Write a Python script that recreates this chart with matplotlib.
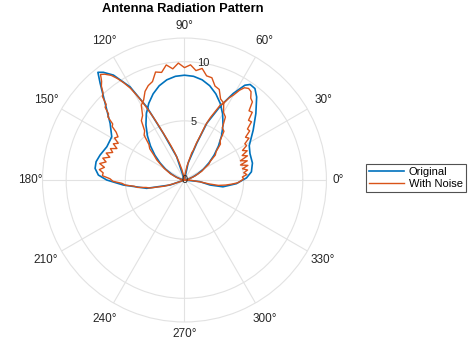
import numpy as np
import matplotlib
matplotlib.use('Agg')
import matplotlib.pyplot as plt

plt.rcParams['font.family'] = ['Liberation Sans', 'DejaVu Sans']

# Original pattern, traced lobe by lobe (angles in degrees)
right_theta = [0, -6, -11, -10, -4, 2, 7, 14, 22, 28, 36, 43, 49, 52.4, 55.5, 57.5,
               60.6, 64, 68.5, 71.5, 78, 90]
right_r = [0, 1.3, 2.2, 3.3, 4.4, 5.25, 5.7, 5.92, 5.97, 6.2, 7.18, 8.25, 9.3, 9.76, 9.8, 9.5,
           8.4, 7.0, 5.17, 3.3, 1.47, 0]

center_theta = [0, 5, 10, 15, 20, 25, 30, 35, 40, 45, 50, 55, 60, 65, 70, 75, 80, 85, 90,
                95, 100, 105, 110, 115, 120, 125, 130, 135, 140, 145, 150, 155, 160, 165, 170, 175, 180]
center_r = [0, 0.03, 0.14, 0.36, 0.75, 1.25, 1.85, 2.52, 3.27, 4.06, 4.87, 5.68, 6.45, 7.15, 7.75, 8.25, 8.6, 8.8, 8.86,
            8.8, 8.6, 8.25, 7.75, 7.15, 6.45, 5.68, 4.87, 4.06, 3.27, 2.52, 1.85, 1.25, 0.75, 0.36, 0.14, 0.03, 0]

left_theta = [100, 108.5, 114.4, 117.3, 120.3, 124.1, 127, 128.8, 131.1, 136, 142.7, 149.3, 156.8,
              163.5, 168.3, 172.6, 176.7, 180, 184.7, 192.4, 199, 180]
left_r = [0, 2.07, 4.33, 6.96, 9.12, 10.71, 11.4, 11.68, 10.84, 9.32, 7.9, 7.15, 7.14,
          7.44, 7.63, 7.62, 7.29, 6.57, 5.18, 3.27, 1.3, 0]

# Noisy measurement, same lobes
right_noisy_theta = [0, -3, -7, -9, -9, -7, -5, -3, -1,
                     1, 3, 5, 7, 9, 11, 13, 15, 17, 19, 21, 23, 25, 27, 29, 31, 33, 35, 37, 39,
                     41, 43, 45, 47, 49, 51, 53, 55, 57,
                     58.5, 60, 61.5, 63, 64.5, 66, 67.5, 69, 70.5, 72, 73.5, 75, 77, 80, 84, 90]
right_noisy_r = [0, 0.6, 1.4, 2.1, 2.9, 3.5, 4.0, 4.5, 4.75,
                 5.0, 4.9, 5.3, 5.05, 5.4, 5.0, 5.5, 4.9, 5.55, 5.0, 5.7, 5.3, 5.85, 5.5, 6.0, 5.95, 6.5, 6.3, 6.9, 6.85,
                 7.5, 7.4, 8.1, 8.0, 8.75, 8.9, 9.35, 9.45, 9.3,
                 8.9, 8.3, 7.9, 7.3, 7.0, 6.3, 5.7, 5.0, 3.9, 3.3, 2.6, 2.4, 1.7, 1.15, 0.5, 0]

center_noisy_theta = [0, 3, 6, 9, 12, 15, 18, 21, 24, 27, 30, 33, 36, 39, 42, 45, 48, 51, 54, 57,
                      60, 63, 66, 69, 72, 75, 78, 81, 84, 87, 90, 93, 96, 99, 102, 105, 108, 111, 114, 117,
                      120, 123, 126, 129, 132, 135, 138, 141, 144, 147, 150, 153, 156, 159, 162, 165, 168,
                      171, 174, 177, 180]
center_noisy_r = [0, 0.05, 0.12, 0.2, 0.35, 0.45, 0.7, 0.95, 1.2, 1.65, 1.9, 2.45, 2.7, 3.35, 3.6, 4.3, 4.5, 5.3, 5.45, 6.35,
                  6.6, 7.3, 7.5, 8.2, 8.35, 8.95, 9.0, 9.55, 9.3, 9.75, 9.5, 9.9, 9.45, 9.85, 9.3, 9.45, 8.75, 8.55, 8.2, 7.6,
                  7.3, 6.5, 6.2, 5.35, 5.1, 4.25, 3.95, 3.3, 2.9, 2.35, 2.0, 1.55, 1.3, 0.9, 0.7, 0.45, 0.3,
                  0.18, 0.1, 0.04, 0]

left_noisy_theta = [90, 100, 104, 107, 109.5, 111.5, 113, 114.5, 115.5, 116.5,
                    117.5, 118.5, 119.5, 120.5, 122, 123.5, 125, 127, 128.5,
                    130, 131.5, 133, 134.5, 136, 137.5, 139, 140.5, 142, 143.5, 145,
                    147, 149, 151, 153, 155, 157, 159, 161, 163, 165, 167, 169, 171, 173, 175, 177, 179,
                    181, 183, 185, 187, 189, 191, 193, 195, 197, 199, 180]
left_noisy_r = [0, 0.3, 0.9, 1.6, 2.4, 3.1, 3.7, 4.5, 5.2, 6.0,
                6.8, 7.6, 8.3, 9.0, 9.7, 10.3, 10.8, 11.2, 11.4,
                10.9, 10.6, 10.1, 9.9, 9.2, 9.1, 8.5, 8.4, 7.7, 7.6, 7.05,
                6.7, 6.9, 6.4, 6.75, 6.3, 6.8, 6.5, 7.0, 6.6, 7.15, 6.8, 7.3, 6.85, 7.25, 6.9, 6.95, 6.3,
                6.05, 5.3, 5.0, 4.3, 4.0, 3.3, 3.0, 2.2, 1.8, 1.0, 0]

theta_ticks = [0, 30, 60, 90, 120, 150, 180, 210, 240, 270, 300, 330]
r_ticks = [0, 5, 10]
r_max = 12

orig_theta = np.deg2rad(np.concatenate([right_theta, center_theta, left_theta]))
orig_r = np.concatenate([right_r, center_r, left_r])
noisy_theta = np.deg2rad(np.concatenate([right_noisy_theta, center_noisy_theta, left_noisy_theta]))
noisy_r = np.concatenate([right_noisy_r, center_noisy_r, left_noisy_r])

fig = plt.figure(figsize=(4.74, 3.48), dpi=100)
ax = fig.add_axes([0.0897, 0.0747, 0.599, 0.816], projection='polar')

l1, = ax.plot(orig_theta, orig_r, color='#0072BD', linewidth=1.2, label='Original')
l2, = ax.plot(noisy_theta, noisy_r, color='#D95319', linewidth=1.0, label='With Noise')

ax.set_rlim(0, r_max)
ax.set_rticks(r_ticks)
ax.set_yticklabels([])
ax.set_thetagrids(theta_ticks)
ax.set_xticklabels([])
ax.grid(True, color='#e2e2e2', linewidth=0.8)
ax.spines['polar'].set_color('#e2e2e2')
ax.spines['polar'].set_linewidth(0.8)

# theta labels placed by hand (MATLAB-like spacing from the outer ring)
px_per_unit = 142 / r_max
for t in theta_ticks:
    rad = np.deg2rad(t)
    dist = 154 + 7 * abs(np.sin(2 * rad))
    ax.text(rad, dist / px_per_unit, f'{t}\u00b0', ha='center', va='center',
            fontsize=8.5, color='#262626', clip_on=False)

# radial labels along ~81 deg
for rv in r_ticks:
    ax.text(np.deg2rad(81), rv, str(rv), ha='center', va='center',
            fontsize=8, color='#262626')

fig.text(0.386, 0.975, 'Antenna Radiation Pattern', ha='center', va='center',
         fontweight='bold', fontsize=9.3, color='#000000')

leg = fig.legend(handles=[l1, l2], loc='upper left', bbox_to_anchor=(0.772, 0.529),
                 fontsize=8, frameon=True, fancybox=False, borderaxespad=0,
                 handlelength=3.1, handletextpad=0.45, borderpad=0.3, labelspacing=0.15)
leg.get_frame().set_edgecolor('#262626')
leg.get_frame().set_linewidth(0.8)

fig.savefig('out.png', dpi=100)
